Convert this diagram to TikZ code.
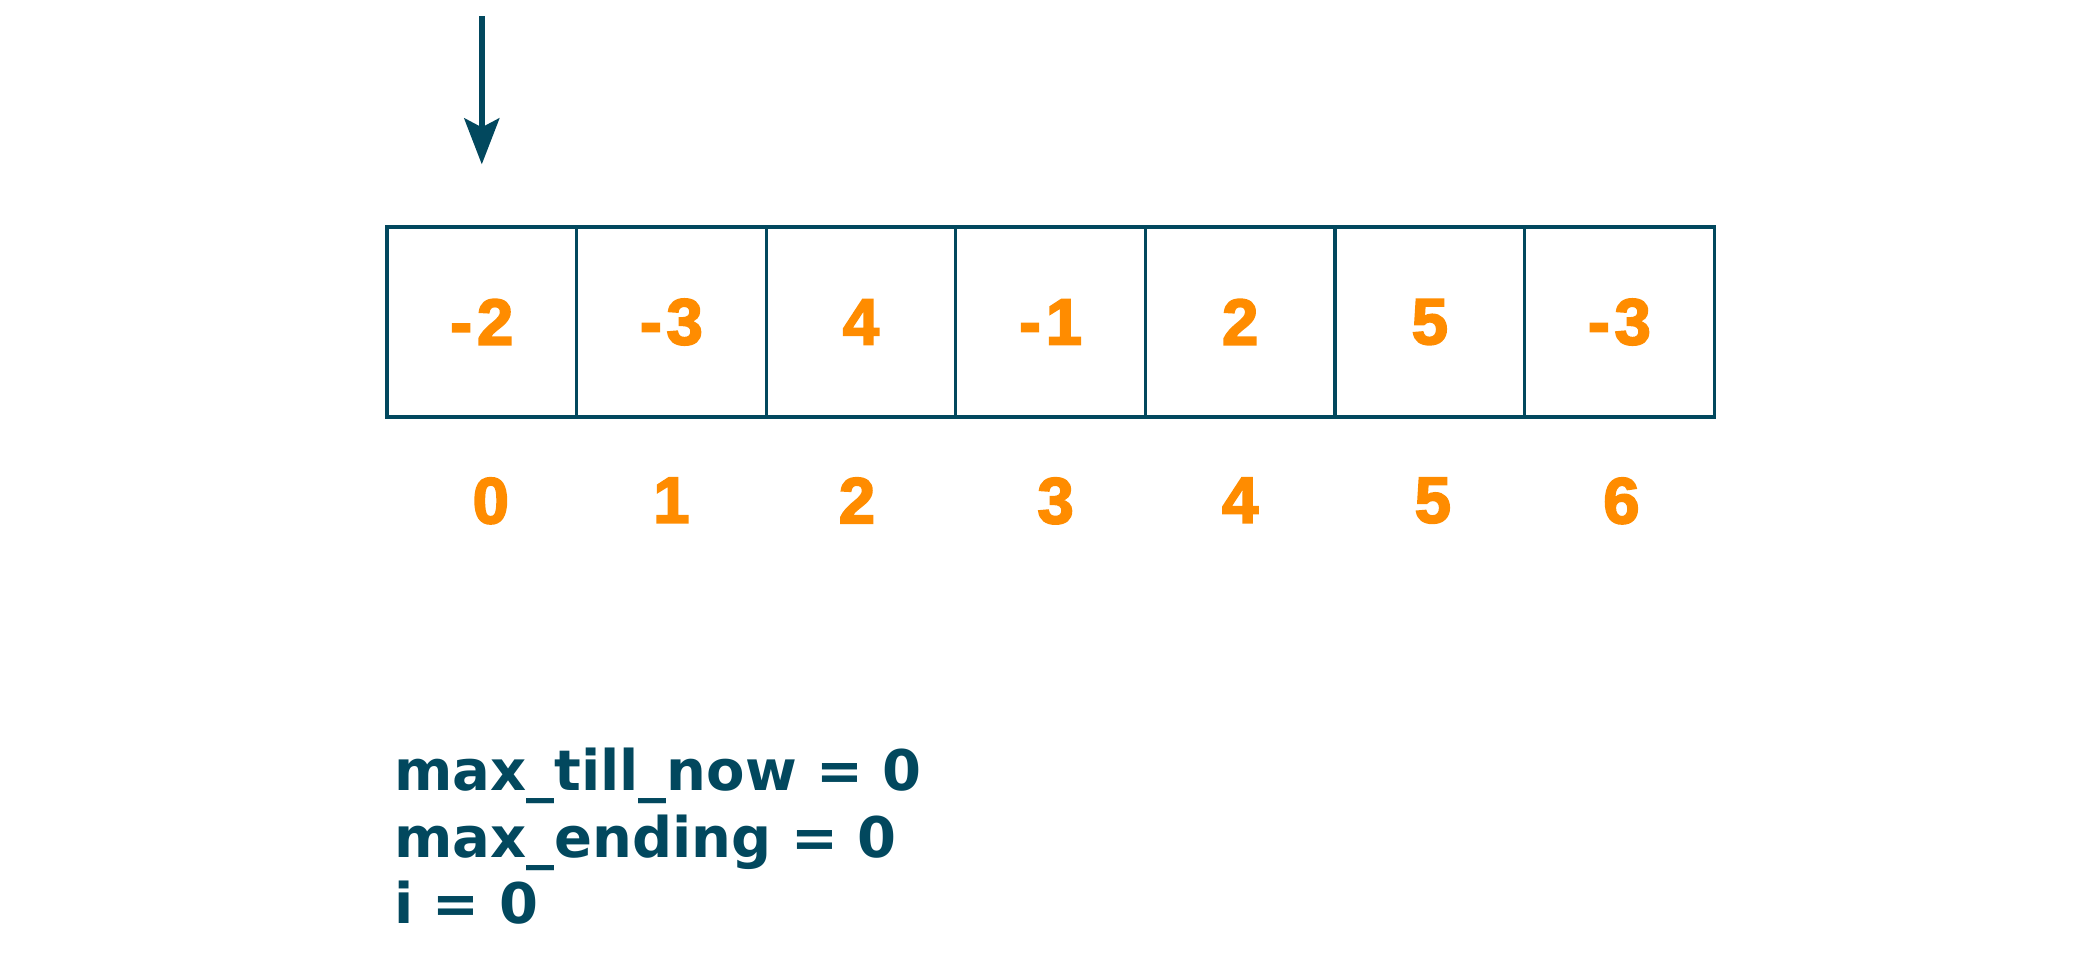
\documentclass[tikz,border=0pt]{standalone}
\usepackage{fontspec}
\setmainfont{Liberation Sans}
\newfontfamily\numfont{Liberation Sans}[BoldFeatures={FakeBold=3}]
\newfontfamily\varfont{DejaVu Sans}
\usetikzlibrary{arrows.meta,positioning}

\definecolor{arrnavy}{RGB}{2,72,94}
\definecolor{arrorange}{RGB}{255,140,0}
\newcommand{\negval}{-\kern5pt}

\begin{document}
\begin{tikzpicture}[x=1pt,y=-1pt,>={Stealth[length=46pt,width=35pt,inset=9pt]}]
  \tikzset{cell/.style={rectangle,draw=arrnavy,line width=3.3pt,minimum width=189.6pt,minimum height=190pt,inner sep=0pt,text=arrorange,font=\numfont\fontsize{65}{65}\selectfont\bfseries}}
  \tikzset{index/.style={inner sep=0pt,text=arrorange,font=\numfont\fontsize{65}{65}\selectfont\bfseries}}
  \tikzset{var/.style={inner sep=0pt,anchor=base west,text=arrnavy,font=\varfont\fontsize{56}{66}\selectfont\bfseries}}
  \tikzset{pointer/.style={->,draw=arrnavy,line width=5.7pt}}

  \useasboundingbox (0,0) rectangle (2100,954);

  % array cells and their indices
  \foreach \v/\dx [count=\i from 0] in {\negval 2/9,\negval 3/0,4/-4,\negval 1/5,2/0,5/3,\negval 3/2} {
    \node [cell] (c\i) at ({481.8+189.6*\i},322) {\v};
    \node [index] (n\i) [below = 59pt of c\i, xshift=\dx pt] {\i};
  }

  % pointer on the current element
  \coordinate (ptrtop) at ([yshift=209pt]c0.north);
  \draw [pointer] (ptrtop) -- ([yshift=61pt]c0.north);

  % running values
  \node [var] (tillnow) at (394,790) {max\_till\_now = 0};
  \node [var] (ending) at ([yshift=-67pt]tillnow.base west) {max\_ending = 0};
  \node [var] (idx) at ([yshift=-66pt]ending.base west) {i = 0};
\end{tikzpicture}
\end{document}
